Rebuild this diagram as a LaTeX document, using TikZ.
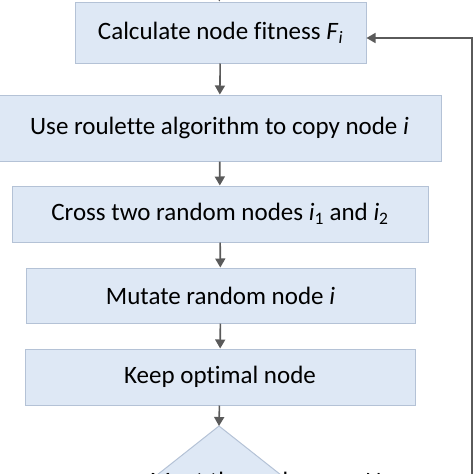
\documentclass[tikz,border=0pt]{standalone}
\usepackage{fontspec}
\setmainfont{Carlito}[Ligatures=NoCommon]
\usetikzlibrary{arrows.meta}
\definecolor{boxfill}{RGB}{222,232,245}
\definecolor{boxline}{RGB}{180,194,214}
\definecolor{flowline}{RGB}{90,90,90}

\begin{document}
\begin{tikzpicture}[x=1pt, y=1pt,
  procbox/.style={draw=boxline, fill=boxfill, line width=1pt, inner sep=0pt, align=center, font=\fontsize{25}{30}\selectfont},
  decshape/.style={draw=boxline, fill=boxfill, line width=1pt},
  label/.style={align=center, font=\fontsize{25}{30}\selectfont},
  flow/.style={draw=flowline, line width=1.6pt, -{Triangle[width=10pt,length=9pt]}}]

\useasboundingbox (0,0) rectangle (474,-474);
\clip (0,0) rectangle (474,-474);

\coordinate (start) at (219,10);

\node[procbox, minimum width=291, minimum height=61] (fit) at (220.5,-32.5) {Calculate node fitness \textit{F}\textsubscript{\textit{i}}};

\node[procbox, minimum width=443, minimum height=66] (copy) at (219.5,-128) {Use roulette algorithm to copy node \textit{i}};

\node[procbox, minimum width=416, minimum height=56] (cross) at (220,-214) {Cross two random nodes \textit{i}\textsubscript{1} and \textit{i}\textsubscript{2}};

\node[procbox, minimum width=389, minimum height=55] (mutate) at (220.5,-295.5) {Mutate random node \textit{i}};

\node[procbox, minimum width=390, minimum height=56] (keep) at (220,-377) {Keep optimal node};

% decision diamond
\coordinate (dtop) at (219,-426);
\coordinate (dright) at (305,-494);
\coordinate (dbot) at (219,-562);
\coordinate (dleft) at (133,-494);
\draw[decshape] (dtop) -- (dright) -- (dbot) -- (dleft) -- cycle;
\node[label] (stop) at (219,-496) {Meet the end\\condition?};

\coordinate (corner) at (472,-494);
\coordinate (back) at (472,-38);

\draw[flow] (start) -- (fit);
\draw[flow] (fit) -- (copy);
\draw[flow] (copy) -- (cross);
\draw[flow] (cross) -- (mutate);
\draw[flow] (mutate) -- (keep);
\draw[flow] (keep) -- (dtop);
\draw[flow] (dright) -- node[label, above, pos=0.45] {No} (corner) -- (back) -- (fit.east |- back);
\end{tikzpicture}
\end{document}
